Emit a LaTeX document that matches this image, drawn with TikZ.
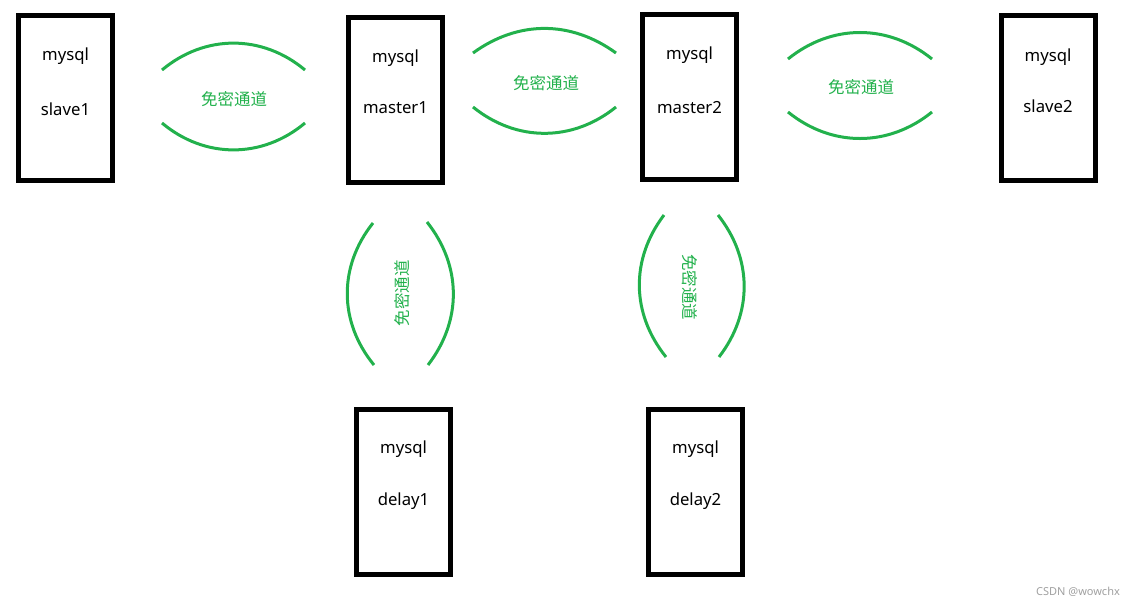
\documentclass[tikz,border=0pt]{standalone}
\usepackage{fontspec}
\setmainfont{Noto Sans}
\newfontfamily\cjkfont{Noto Sans CJK SC}
\usepackage{xcolor}
\usetikzlibrary{positioning}
\definecolor{paintgreen}{HTML}{22B14C}
\definecolor{markgray}{HTML}{A0A0A0}

\begin{document}
\begin{tikzpicture}[
    x=1pt, y=-1pt,
    dbbox/.style={draw=black, line width=5pt, minimum width=94pt, minimum height=165pt, inner sep=0pt},
    dbtext/.style={font=\fontsize{16.7}{19}\selectfont, inner sep=0pt},
    tunnel/.style={draw=paintgreen, line width=3pt},
    tunneltext/.style={font=\cjkfont\fontsize{16.5}{19}\selectfont, text=paintgreen, inner sep=0pt}
]
    \useasboundingbox (0,0) rectangle (1136,606);

    % Database boxes
    \node[dbbox] (slave1) at (65.5,98) {};
    \node[dbbox] (master1) at (395.5,100) {};
    \node[dbbox] (master2) at (689.5,96.5) {};
    \node[dbbox] (slave2) at (1048,98) {};
    \node[dbbox] (delay1) at (403.5,491.5) {};
    \node[dbbox] (delay2) at (695.5,491.5) {};

    % Box labels
    \node[dbtext] (slave1-a) at ([yshift=-43pt]slave1.north) {mysql};
    \node[dbtext] (slave1-b) at ([yshift=-96pt]slave1.north) {slave1};
    \node[dbtext] (master1-a) at ([yshift=-43pt]master1.north) {mysql};
    \node[dbtext] (master1-b) at ([yshift=-93pt]master1.north) {master1};
    \node[dbtext] (master2-a) at ([yshift=-44pt]master2.north) {mysql};
    \node[dbtext] (master2-b) at ([yshift=-96pt]master2.north) {master2};
    \node[dbtext] (slave2-a) at ([yshift=-44pt]slave2.north) {mysql};
    \node[dbtext] (slave2-b) at ([yshift=-93pt]slave2.north) {slave2};
    \node[dbtext] (delay1-a) at ([yshift=-43pt]delay1.north) {mysql};
    \node[dbtext] (delay1-b) at ([yshift=-95pt]delay1.north) {delay1};
    \node[dbtext] (delay2-a) at ([yshift=-43pt]delay2.north) {mysql};
    \node[dbtext] (delay2-b) at ([yshift=-95pt]delay2.north) {delay2};

    % Horizontal tunnels
    \draw[tunnel] (162,70) to[bend left=40] (305,70);
    \draw[tunnel] (162,123) to[bend right=40] (305,123);
    \node[tunneltext] (tun1) at (234,99) {免密通道};

    \draw[tunnel] (473,53) to[bend left=36] (616,53);
    \draw[tunnel] (473,107) to[bend right=39] (616,107);
    \node[tunneltext] (tun2) at (546,83) {免密通道};

    \draw[tunnel] (788,59) to[bend left=39] (932,59);
    \draw[tunnel] (788,112) to[bend right=39] (932,112);
    \node[tunneltext] (tun3) at (861,87) {免密通道};

    % Vertical tunnels
    \draw[tunnel] (373,223) to[bend right=39] (374,365);
    \draw[tunnel] (427,222) to[bend left=38] (428,365);
    \node[tunneltext, rotate=90] (tun4) at (402,293) {免密通道};

    \draw[tunnel] (664,215) to[bend right=38] (666,357);
    \draw[tunnel] (718,215) to[bend left=38] (719,357);
    \node[tunneltext, rotate=-90] (tun5) at (690,287) {免密通道};

    % Watermark
    \node[font=\fontsize{11}{13}\selectfont, text=markgray, inner sep=0pt] (mark) at (1078,592) {CSDN @wowchx};
\end{tikzpicture}
\end{document}
